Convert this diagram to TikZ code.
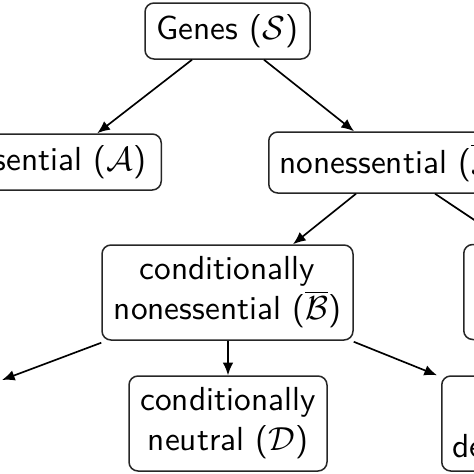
\documentclass[tikz,border=0pt]{standalone}
\usepackage{fontspec}
\usetikzlibrary{arrows.meta,calc}
\begin{document}
\begin{tikzpicture}[x=0.3pt,y=-0.3pt,
  box/.style={draw=black!85,line width=0.45pt,rounded corners=2.7pt,inner sep=0pt,
    align=center,font=\sffamily},
  arr/.style={draw=black,line width=0.5pt,-{Latex[length=3.8pt,width=3.2pt]}}]
\useasboundingbox (0,0) rectangle (474,474);
\clip (0,0) rectangle (474,474);
\node[box,minimum width=49.5pt,minimum height=16.8pt] (G) at (227.5,31) {Genes ($\mathcal{S}$)};
\node[box,minimum width=63pt,minimum height=16.8pt,anchor=east] (A) at (162,162) {essential ($\mathcal{A}$)};
\node[box,minimum width=75.9pt,minimum height=18.3pt,anchor=west] (B) at (268,162.5) {nonessential ($\overline{\mathcal{A}}$)};
\node[box,minimum width=75.3pt,minimum height=28.5pt] (C) at (227.5,292.5) {conditionally\\nonessential ($\overline{\mathcal{B}}$)};
\node[box,minimum width=59.4pt,minimum height=28.5pt] (D) at (228,423.5) {conditionally\\neutral ($\mathcal{D}$)};
\node[box,minimum width=75pt,minimum height=28.5pt,anchor=west] (R) at (463,292) {};
\node[box,minimum width=75pt,minimum height=28.5pt,anchor=west,text width=69pt,inner xsep=3.3pt,align=left] (E) at (441,423.5) {\strut\\de};
\coordinate (L) at (2,380);
\draw[arr] ($(G.south)+(-35.5,0)$) -- ($(A.north)+(41,0)$);
\draw[arr] ($(G.south)+(36.5,0)$) -- ($(B.north west)+(86,0)$);
\draw[arr] ($(B.south west)+(88,0)$) -- ($(C.north)+(65.5,0)$);
\draw[arr] ($(B.south west)+(167,0)$) -- ($(R.north west)+(47,0)$);
\draw[arr] ($(C.south)+(0.5,0)$) -- (D.north);
\draw[arr] ($(C.south east)+(0,1)$) -- ($(E.north west)+(-4,0)$);
\draw[arr] ($(C.south west)+(0,2)$) -- (L);
\end{tikzpicture}
\end{document}
